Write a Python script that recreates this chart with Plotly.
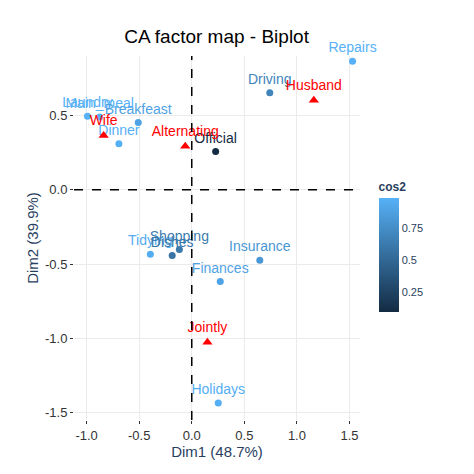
import plotly.graph_objects as go
import plotly.colors as pc

rows = ["Laundry","Main_meal","Dinner","Breakfeast","Tidying","Dishes","Shopping","Official","Driving","Finances","Insurance","Repairs","Holidays"]
row_d1 = [-0.992,-0.876,-0.693,-0.509,-0.394,-0.186,-0.118,0.227,0.742,0.271,0.647,1.529,0.252]
row_d2 = [0.495,0.490,0.309,0.453,-0.434,-0.442,-0.403,0.257,0.653,-0.617,-0.474,0.864,-1.436]
row_cos2 = [0.99,0.99,0.98,0.90,0.96,0.59,0.63,0.10,0.69,0.90,0.82,0.99,0.97]
cols = ["Wife","Alternating","Husband","Jointly"]
col_d1 = [-0.838,-0.062,1.161,0.149]
col_d2 = [0.365,0.292,0.602,-1.027]

scale = [[0,"#132B43"],[1,"#56B1F7"]]
txtcols = [pc.sample_colorscale(scale, (c-0.1)/0.89)[0] for c in row_cos2]
fig = go.Figure()
fig.add_trace(go.Scatter(x=row_d1, y=row_d2, mode="markers+text", text=rows,
    textposition="top center", textfont=dict(size=14, color=txtcols), cliponaxis=False,
    marker=dict(size=7, color=row_cos2, colorscale=scale, cmin=0.1, cmax=0.99,
        colorbar=dict(title=dict(text="<b>cos2</b>", font=dict(size=12)), len=0.42, y=0.48,
                      thickness=20, tickvals=[0.25,0.5,0.75], tickfont=dict(size=11), x=1.03, outlinewidth=0)),
    showlegend=False))
fig.add_trace(go.Scatter(x=col_d1, y=col_d2, mode="markers+text", text=cols, cliponaxis=False,
    textposition="top center", textfont=dict(size=14, color="red"),
    marker=dict(symbol="triangle-up", size=9, color="red"), showlegend=False))
fig.add_hline(y=0, line=dict(color="black", dash="dash", width=1.5))
fig.add_vline(x=0, line=dict(color="black", dash="dash", width=1.5))
fig.update_layout(width=474, height=474, plot_bgcolor="white", paper_bgcolor="white",
    title=dict(text="CA factor map - Biplot", x=0.44, xanchor="center", y=0.955, font=dict(size=19, color="black")),
    margin=dict(l=66, r=122, t=48, b=62), font=dict(family="Liberation Sans"))
fig.update_xaxes(title=dict(text="Dim1 (48.7%)", font=dict(size=15), standoff=2), range=[-1.12,1.6],
    tickvals=[-1,-0.5,0,0.5,1,1.5], ticktext=["-1.0","-0.5","0.0","0.5","1.0","1.5"],
    gridcolor="#ebebeb", zeroline=False, ticks="outside", ticklen=3, tickcolor="#333", tickfont=dict(size=13, color="#333"))
fig.update_yaxes(title=dict(text="Dim2 (39.9%)", font=dict(size=15), standoff=2), range=[-1.55,0.9],
    tickvals=[-1.5,-1,-0.5,0,0.5], ticktext=["-1.5","-1.0","-0.5","0.0","0.5"],
    gridcolor="#ebebeb", zeroline=False, ticks="outside", ticklen=3, tickcolor="#333", tickfont=dict(size=13, color="#333"))
fig.write_html("out.html")
